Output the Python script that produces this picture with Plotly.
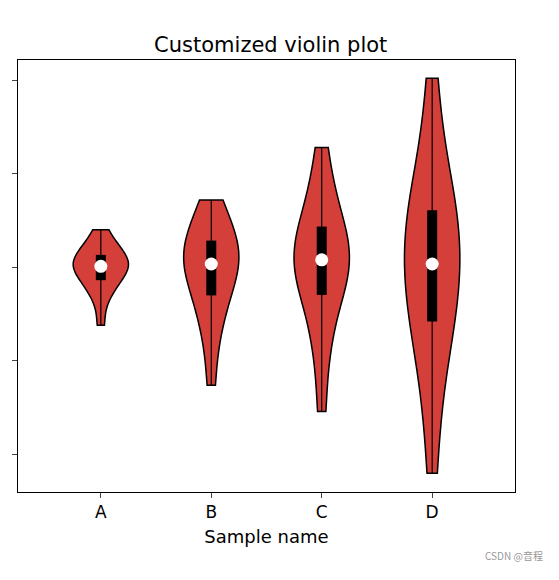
import numpy as np
import plotly.graph_objects as go

names = ["A", "B", "C", "D"]
vals_a = [-3.1, -1.9, -1.3, -1.0, -0.75, -0.5, -0.3, -0.1, 0.0, 0.1, 0.25, 0.4, 0.55, 0.7, 0.9, 1.2, 1.5, 2.0]
vals_b = [-6.3, -4.2, -3.1, -2.3, -1.6, -1.2, -0.7, -0.3, 0.05, 0.3, 0.6, 0.9, 1.2, 1.5, 1.9, 2.4, 3.0, 3.6]
vals_c = [-7.7, -5.0, -3.6, -2.4, -1.6, -1.1, -0.6, -0.1, 0.3, 0.5, 0.8, 1.2, 1.8, 2.3, 2.8, 3.6, 4.8, 6.4]
vals_d = [-11.0, -7.5, -5.6, -4.1, -3.1, -2.3, -1.6, -0.8, -0.15, 0.5, 1.2, 1.9, 2.6, 3.2, 4.0, 5.2, 7.0, 10.1]
samples = [vals_a, vals_b, vals_c, vals_d]

fig = go.Figure()
for name, v in zip(names, samples):
    fig.add_trace(go.Violin(x=[name] * len(v), y=v, width=0.5, spanmode="hard",
                            points=False, fillcolor="#D43F3A", opacity=1,
                            line=dict(color="black", width=1.5), showlegend=False,
                            hoveron="violins"))

for name, v in zip(names, samples):
    q1, med, q3 = np.percentile(v, [25, 50, 75])
    fig.add_trace(go.Scatter(x=[name, name], y=[min(v), max(v)], mode="lines",
                             line=dict(color="black", width=1.2), showlegend=False))
    fig.add_trace(go.Scatter(x=[name, name], y=[q1, q3], mode="lines",
                             line=dict(color="black", width=10), showlegend=False))
    fig.add_trace(go.Scatter(x=[name], y=[med], mode="markers",
                             marker=dict(color="white", size=13), showlegend=False))

fig.update_layout(
    width=559, height=580, plot_bgcolor="white", paper_bgcolor="white",
    margin=dict(l=5, r=52, t=52, b=96),
    font=dict(family="DejaVu Sans", color="black"),
    title=dict(text="Customized violin plot", x=0.47, xanchor="center", y=0.95, font=dict(size=21)),
    violinmode="overlay",
)
fig.update_xaxes(type="category", categoryorder="array", categoryarray=names, range=[-0.75, 3.75],
                 showline=True, mirror=True, linecolor="black", ticks="outside",
                 tickfont=dict(size=17), title=dict(text="Sample name", font=dict(size=18), standoff=8))
fig.update_yaxes(range=[-12, 11.07], tickvals=[-10, -5, 0, 5, 10], showticklabels=False,
                 showline=True, mirror=True, linecolor="black", ticks="outside",
                 showgrid=False, zeroline=False)
fig.add_annotation(text="CSDN @音程", xref="paper", yref="paper", x=1.06, y=-0.17,
                   showarrow=False, font=dict(size=10, color="#999999",
                                              family="Noto Sans CJK SC"))
fig.write_html("out.html")
